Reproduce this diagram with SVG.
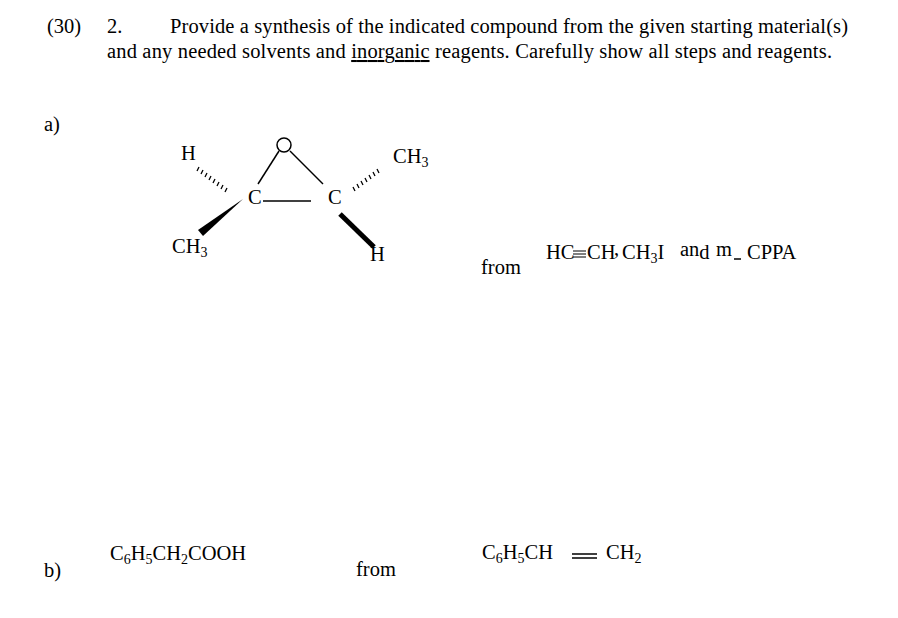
<svg xmlns="http://www.w3.org/2000/svg" width="898" height="618" viewBox="0 0 898 618">
<style>
text{font-family:"Liberation Serif","Times New Roman",serif;font-size:20.5px;fill:#000}
.s{font-size:14px}
.b{stroke:#000;stroke-width:1.5;fill:none}
</style>
<rect width="898" height="618" fill="#fff"/>
<g id="title">
<text x="47" y="33">(30)</text><text x="107" y="33">2.</text>
<text x="170" y="33" textLength="678">Provide a synthesis of the indicated compound from the given starting material(s)</text>
<text x="107" y="58" textLength="725">and any needed solvents and <tspan text-decoration="underline">inorganic</tspan> reagents.  Carefully show all steps and reagents.</text>
</g>
<text x="44" y="131">a)</text>
<text x="44" y="577">b)</text>
<g id="epoxide">
<circle cx="284" cy="145" r="7" class="b"/>
<line x1="279" y1="151" x2="258" y2="184" class="b"/>
<line x1="290" y1="151" x2="323" y2="184" class="b"/>
<line x1="263" y1="201" x2="311" y2="201" class="b"/>
<text x="248" y="204" font-size="19">C</text>
<text x="328" y="204" font-size="19">C</text>
<text x="181" y="160" font-size="19">H</text>
<path d="M199 167 l-2 4 M203 170 l-2 4 M207 173 l-2 4 M211 176 l-2 4 M215 179 l-2 4 M219 182 l-2 4 M223 185 l-2 4 M227 188 l-2 4" stroke="#000" stroke-width="1.3"/>
<path d="M243 199 L198 230 L203 236 Z" fill="#000"/>
<text x="172" y="253" font-size="19">CH<tspan class="s" dy="4">3</tspan></text>
<path d="M353 187 l2 4 M357 184 l2 4 M361 181 l2 4 M365 178 l2 4 M369 175 l2 4 M373 172 l2 4 M377 169 l2 4" stroke="#000" stroke-width="1.3"/>
<text x="393" y="163" font-size="19">CH<tspan class="s" dy="4">3</tspan></text>
<line x1="340" y1="214" x2="374" y2="247" stroke="#000" stroke-width="5"/>
<text x="370" y="261" font-size="19">H</text>
</g>
<g id="startA">
<text x="481" y="274">from</text>
<text x="546" y="259" font-size="19">HC</text>
<path d="M573 251 h13 M573 254 h13 M573 257 h13" stroke="#000" stroke-width="1.2"/>
<text x="587" y="259" font-size="19">CH</text><text x="614" y="255" font-size="15">,</text>
<text x="622" y="259" font-size="19">CH<tspan class="s" dy="4">3</tspan><tspan dy="-4">I</tspan></text>
<text x="680" y="256" font-size="15">an<tspan dy="3">d</tspan></text>
<text x="716" y="256" font-size="15">m</text>
<line x1="734" y1="259" x2="741" y2="259" stroke="#000" stroke-width="1.5"/>
<text x="747" y="259" font-size="19">CPPA</text>
</g>
<g id="b">
<text x="110" y="560" font-size="19">C<tspan class="s" dy="4">6</tspan><tspan dy="-4">H</tspan><tspan class="s" dy="4">5</tspan><tspan dy="-4">CH</tspan><tspan class="s" dy="4">2</tspan><tspan dy="-4">COOH</tspan></text>
<text x="356" y="576">from</text>
<text x="482" y="559" font-size="19">C<tspan class="s" dy="4">6</tspan><tspan dy="-4">H</tspan><tspan class="s" dy="4">5</tspan><tspan dy="-4">CH</tspan></text>
<path d="M572 554 h25 M572 558 h25" stroke="#000" stroke-width="1.3"/>
<text x="606" y="559" font-size="19">CH<tspan class="s" dy="4">2</tspan></text>
</g>
</svg>
